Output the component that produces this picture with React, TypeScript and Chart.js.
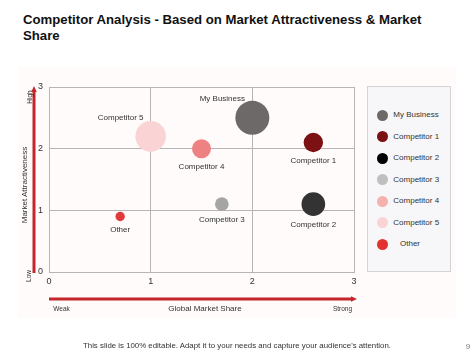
import React, { useEffect, useRef } from 'react';
import { Chart, registerables } from 'chart.js';

Chart.register(...registerables);

const companies = ['My Business', 'Competitor 1', 'Competitor 2', 'Competitor 3', 'Competitor 4', 'Competitor 5', 'Other'];
const marketShare = [2.0, 2.6, 2.6, 1.7, 1.5, 1.0, 0.7];
const attractiveness = [2.5, 2.1, 1.1, 1.1, 2.0, 2.2, 0.9];
const bubbleRadius = [17, 9.7, 11.8, 6.8, 9.5, 15.3, 4.7];
const tickLabels = ['0', '1', '2', '3'];

const bubbleColors = ['#6d6969', '#7b1113', '#333333', '#a5a5a5', '#ee8181', '#fad4d5', '#e03a3a'];
const legendColors = ['#6d6969', '#7b1113', '#000000', '#bfbfbf', '#f4b1ad', '#fad4d5', '#e3312f'];

const FONT = '"Liberation Sans", Arial, sans-serif';
const ARROW = '#c3262b';

const labelPlacement: Record<string, 'upperLeft' | 'below'> = {
  'My Business': 'upperLeft',
  'Competitor 5': 'upperLeft',
};

const bubbleLabelPlugin = {
  id: 'bubbleLabels',
  afterDatasetsDraw(chart: any) {
    const ctx = chart.ctx;
    ctx.save();
    ctx.font = `8px ${FONT}`;
    ctx.fillStyle = '#333333';
    ctx.textAlign = 'center';
    ctx.textBaseline = 'middle';
    chart.data.datasets.forEach((ds: any, i: number) => {
      const el = chart.getDatasetMeta(i).data[0];
      if (!el) return;
      const r = ds.data[0].r;
      let x = el.x;
      let y = el.y;
      if (labelPlacement[ds.label] === 'upperLeft') {
        x -= 30;
        y -= 19;
      } else {
        y += r + 8.5;
      }
      ctx.fillText(ds.label, x, y);
    });
    ctx.restore();
  },
};

const arrowPlugin = {
  id: 'axisArrows',
  afterDraw(chart: any) {
    const { ctx, chartArea } = chart;
    const { left, right, top, bottom } = chartArea;
    ctx.save();
    ctx.strokeStyle = ARROW;
    ctx.fillStyle = ARROW;
    ctx.lineWidth = 3;
    // vertical arrow
    const vx = left - 15;
    ctx.beginPath();
    ctx.moveTo(vx, bottom + 1);
    ctx.lineTo(vx, top + 4);
    ctx.stroke();
    ctx.beginPath();
    ctx.moveTo(vx, top - 1);
    ctx.lineTo(vx - 2.8, top + 5);
    ctx.lineTo(vx + 2.8, top + 5);
    ctx.closePath();
    ctx.fill();
    // horizontal arrow
    const hy = bottom + 27;
    ctx.beginPath();
    ctx.moveTo(left, hy);
    ctx.lineTo(right - 2, hy);
    ctx.stroke();
    ctx.beginPath();
    ctx.moveTo(right + 3, hy);
    ctx.lineTo(right - 3, hy - 2.8);
    ctx.lineTo(right - 3, hy + 2.8);
    ctx.closePath();
    ctx.fill();
    ctx.restore();
  },
};

function Txt(props: { x: number; y: number; size: number; rotate?: boolean; color?: string; bold?: boolean; children: React.ReactNode }) {
  const { x, y, size, rotate, color, bold, children } = props;
  return (
    <div
      style={{
        position: 'absolute',
        left: x,
        top: y,
        transform: `translate(-50%, -50%)${rotate ? ' rotate(-90deg)' : ''}`,
        fontFamily: FONT,
        fontSize: size,
        lineHeight: 1,
        whiteSpace: 'nowrap',
        color: color || '#333333',
        fontWeight: bold ? 'bold' : 'normal',
      }}
    >
      {children}
    </div>
  );
}

export default function App() {
  const canvasRef = useRef<HTMLCanvasElement | null>(null);

  useEffect(() => {
    if (!canvasRef.current) return;
    const datasets = companies.map((name, i) => ({
      label: name,
      data: [{ x: marketShare[i], y: attractiveness[i], r: bubbleRadius[i] }],
      backgroundColor: bubbleColors[i],
      borderColor: bubbleColors[i],
      borderWidth: 0,
    }));
    const tickCfg = {
      stepSize: 1,
      color: '#333333',
      font: { size: 9, family: FONT },
      callback: (v: any) => tickLabels[Number(v)] ?? '',
    };
    const chart = new Chart(canvasRef.current, {
      type: 'bubble',
      data: { datasets },
      options: {
        responsive: false,
        animation: false,
        devicePixelRatio: 1,
        layout: { padding: { left: 0, top: 87, right: 120, bottom: 63 } },
        plugins: {
          legend: { display: false },
          tooltip: { enabled: false },
          title: { display: false },
        },
        scales: {
          x: {
            type: 'linear',
            min: 0,
            max: 3,
            ticks: { ...tickCfg, padding: 4 },
            grid: { color: '#b5b5b5', drawTicks: false },
            border: { color: '#b5b5b5' },
            afterFit: (s: any) => {
              s.height = 20;
            },
          },
          y: {
            type: 'linear',
            min: 0,
            max: 3,
            ticks: { ...tickCfg, padding: 6 },
            grid: { color: '#b5b5b5', drawTicks: false },
            border: { color: '#b5b5b5' },
            afterFit: (s: any) => {
              s.width = 49;
            },
          },
        },
      } as any,
      plugins: [bubbleLabelPlugin, arrowPlugin],
    });
    return () => chart.destroy();
  }, []);

  return (
    <div style={{ position: 'absolute', left: 0, top: 0, width: 474, height: 355, background: '#ffffff', overflow: 'hidden' }}>
      <div style={{ position: 'absolute', left: 18, top: 67, width: 438, height: 251, background: '#fffbfa' }} />
      <div
        style={{
          position: 'absolute',
          left: 23,
          top: 12,
          width: 425,
          fontFamily: FONT,
          fontWeight: 'bold',
          fontSize: 13.2,
          lineHeight: '16px',
          color: '#111111',
        }}
      >
        Competitor Analysis - Based on Market Attractiveness &amp; Market Share
      </div>
      <canvas ref={canvasRef} width={474} height={355} style={{ position: 'absolute', left: 0, top: 0, width: 474, height: 355 }} />
      <Txt x={25} y={185} size={8} rotate>Market Attractiveness</Txt>
      <Txt x={30} y={96.5} size={6.5} rotate>High</Txt>
      <Txt x={29} y={276} size={6.5} rotate>Low</Txt>
      <Txt x={61.5} y={309} size={6.5}>Weak</Txt>
      <Txt x={205} y={309} size={8}>Global Market Share</Txt>
      <Txt x={342.5} y={309} size={6.5}>Strong</Txt>
      <div
        style={{
          position: 'absolute',
          left: 367,
          top: 86,
          width: 84,
          height: 186,
          boxSizing: 'border-box',
          background: '#f7f7f9',
          border: '1px solid #d4d4d4',
        }}
      />
      {companies.map((name, i) => {
        const cy = 115 + i * 21.5;
        return (
          <React.Fragment key={name}>
            <div
              style={{
                position: 'absolute',
                left: 382.3 - 5.5,
                top: cy - 5.5,
                width: 11,
                height: 11,
                borderRadius: '50%',
                background: legendColors[i],
              }}
            />
            <div
              style={{
                position: 'absolute',
                left: name === 'Other' ? 400 : 393.3,
                top: cy,
                transform: 'translateY(-50%)',
                fontFamily: FONT,
                fontSize: 8,
                lineHeight: 1,
                whiteSpace: 'nowrap',
                color: '#333333',
              }}
            >
              {name}
            </div>
          </React.Fragment>
        );
      })}
      <Txt x={237} y={346} size={7.85}>This slide is 100% editable. Adapt it to your needs and capture your audience's attention.</Txt>
      <Txt x={468} y={347} size={8} color="#777777">9</Txt>
    </div>
  );
}
